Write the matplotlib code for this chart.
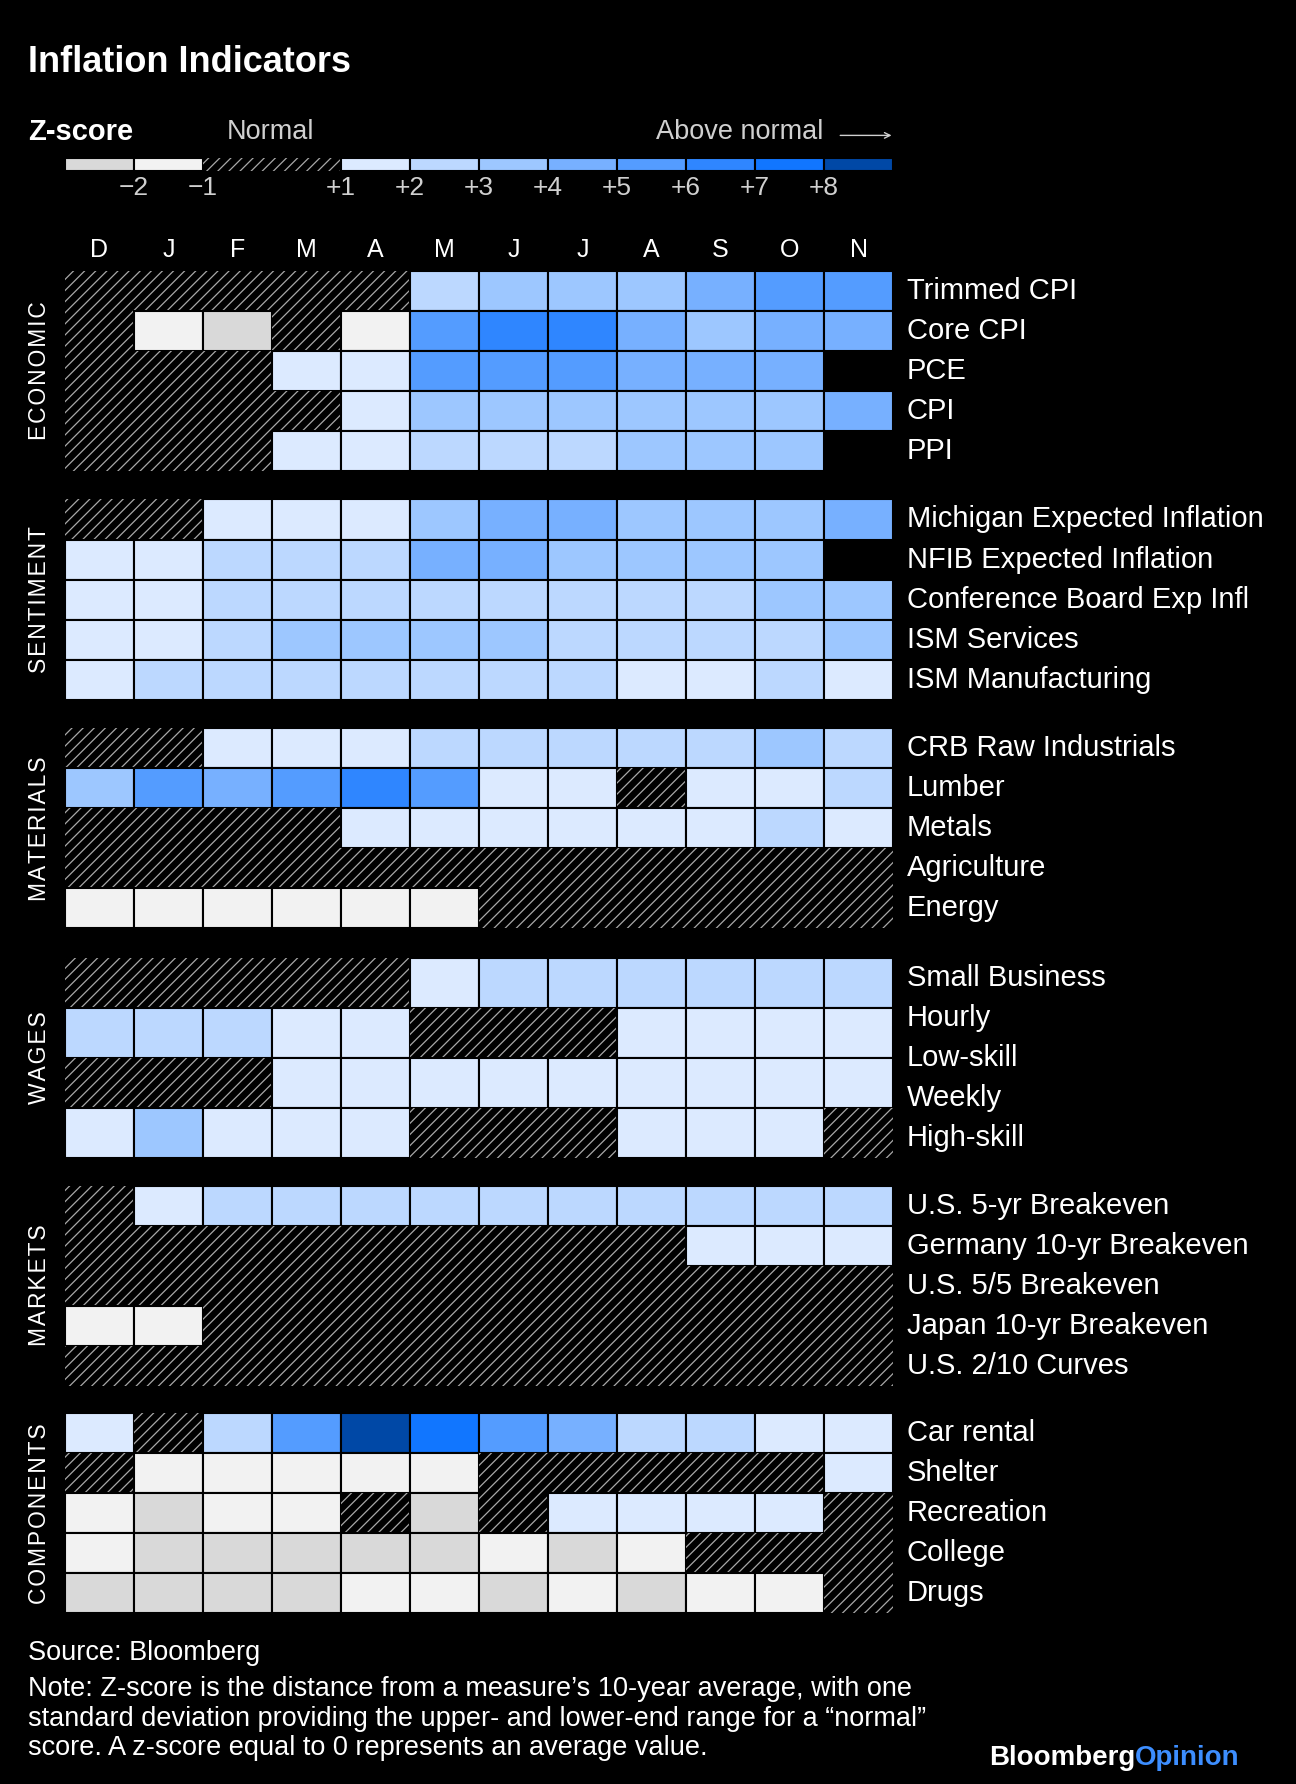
import matplotlib.pyplot as plt
from matplotlib.patches import Rectangle

plt.rcParams['font.family'] = ['Liberation Sans', 'DejaVu Sans']
plt.rcParams['hatch.linewidth'] = 0.9

months = ['D', 'J', 'F', 'M', 'A', 'M', 'J', 'J', 'A', 'S', 'O', 'N']
N = None  # no reading

sections = ['ECONOMIC', 'SENTIMENT', 'MATERIALS', 'WAGES', 'MARKETS', 'COMPONENTS']

economic_labels = ['Trimmed CPI', 'Core CPI', 'PCE', 'CPI', 'PPI']
economic = [
    [0, 0, 0, 0, 0, 2, 3, 3, 3, 4, 5, 5],
    [0, -1, -2, 0, -1, 5, 6, 6, 4, 3, 4, 4],
    [0, 0, 0, 1, 1, 5, 5, 5, 4, 4, 4, N],
    [0, 0, 0, 0, 1, 3, 3, 3, 3, 3, 3, 4],
    [0, 0, 0, 1, 1, 2, 2, 2, 3, 3, 3, N],
]
sentiment_labels = ['Michigan Expected Inflation', 'NFIB Expected Inflation',
                    'Conference Board Exp Infl', 'ISM Services', 'ISM Manufacturing']
sentiment = [
    [0, 0, 1, 1, 1, 3, 4, 4, 3, 3, 3, 4],
    [1, 1, 2, 2, 2, 4, 4, 3, 3, 3, 3, N],
    [1, 1, 2, 2, 2, 2, 2, 2, 2, 2, 3, 3],
    [1, 1, 2, 3, 3, 3, 3, 2, 2, 2, 2, 3],
    [1, 2, 2, 2, 2, 2, 2, 2, 1, 1, 2, 1],
]
materials_labels = ['CRB Raw Industrials', 'Lumber', 'Metals', 'Agriculture', 'Energy']
materials = [
    [0, 0, 1, 1, 1, 2, 2, 2, 2, 2, 3, 2],
    [3, 5, 4, 5, 6, 5, 1, 1, 0, 1, 1, 2],
    [0, 0, 0, 0, 1, 1, 1, 1, 1, 1, 2, 1],
    [0, 0, 0, 0, 0, 0, 0, 0, 0, 0, 0, 0],
    [-1, -1, -1, -1, -1, -1, 0, 0, 0, 0, 0, 0],
]
wages_labels = ['Small Business', 'Hourly', 'Low-skill', 'Weekly', 'High-skill']
wages = [
    [0, 0, 0, 0, 0, 1, 2, 2, 2, 2, 2, 2],
    [2, 2, 2, 1, 1, 0, 0, 0, 1, 1, 1, 1],
    [0, 0, 0, 1, 1, 1, 1, 1, 1, 1, 1, 1],
    [1, 3, 1, 1, 1, 0, 0, 0, 1, 1, 1, 0],
]
markets_labels = ['U.S. 5-yr Breakeven', 'Germany 10-yr Breakeven', 'U.S. 5/5 Breakeven',
                  'Japan 10-yr Breakeven', 'U.S. 2/10 Curves']
markets = [
    [0, 1, 2, 2, 2, 2, 2, 2, 2, 2, 2, 2],
    [0, 0, 0, 0, 0, 0, 0, 0, 0, 1, 1, 1],
    [0, 0, 0, 0, 0, 0, 0, 0, 0, 0, 0, 0],
    [-1, -1, 0, 0, 0, 0, 0, 0, 0, 0, 0, 0],
    [0, 0, 0, 0, 0, 0, 0, 0, 0, 0, 0, 0],
]
components_labels = ['Car rental', 'Shelter', 'Recreation', 'College', 'Drugs']
components = [
    [1, 0, 2, 5, 8, 7, 5, 4, 2, 2, 1, 1],
    [0, -1, -1, -1, -1, -1, 0, 0, 0, 0, 0, 1],
    [-1, -2, -1, -1, 0, -2, 0, 1, 1, 1, 1, 0],
    [-1, -2, -2, -2, -2, -2, -1, -2, -1, 0, 0, 0],
    [-2, -2, -2, -2, -1, -1, -2, -1, -2, -1, -1, 0],
]

blocks = [(economic_labels, economic), (sentiment_labels, sentiment),
          (materials_labels, materials), (wages_labels, wages),
          (markets_labels, markets), (components_labels, components)]

colors = {-2: '#d9d9d9', -1: '#f2f2f2', 1: '#dceaff', 2: '#bcd8ff', 3: '#9dc7ff',
          4: '#77b0ff', 5: '#549cff', 6: '#2f86ff', 7: '#1176ff', 8: '#0048a6'}
legend_vals = [-2, -1, 0, 0, 1, 2, 3, 4, 5, 6, 7, 8]
legend_ticks = ['\u22122', '\u22121', '+1', '+2', '+3', '+4', '+5', '+6', '+7', '+8']

# layout units follow a 1139 x 1568 canvas, saved at 1296 x 1784
W, H = 1139, 1568
fig = plt.figure(figsize=(12.96, 17.84), dpi=100, facecolor='black')
ax = fig.add_axes([0, 0, 1, 1])
ax.set_xlim(0, W)
ax.set_ylim(H, 0)
ax.axis('off')

x0, cw = 57, (785 - 57) / 12
row_h = 35.2
sec_top = [238, 439, 640, 842, 1042, 1242]
sec_h = 5 * row_h
grey = '#d0d0d0'


def cell(x, y, w, h, v):
    if v is None:
        return
    if v == 0:
        ax.add_patch(Rectangle((x, y), w, h, facecolor='black', edgecolor='#a8a8a8',
                               hatch='///', linewidth=0))
    else:
        ax.add_patch(Rectangle((x, y), w, h, facecolor=colors[v], edgecolor='black',
                               linewidth=1.5))


# title and legend
ax.text(25, 55, 'Inflation Indicators', color='white', fontsize=26, fontweight='bold', va='center')
ax.text(25, 116, 'Z-score', color='white', fontsize=21, fontweight='bold', va='center')
ax.text(238, 116, 'Normal', color=grey, fontsize=19.5, va='center', ha='center')
ax.text(724, 116, 'Above normal', color=grey, fontsize=19.5, va='center', ha='right')
ax.annotate('', xy=(786, 119), xytext=(736, 119),
            arrowprops=dict(arrowstyle='->', color=grey, lw=1))
ly, lh = 139, 11
for i, v in enumerate(legend_vals):
    cell(x0 + i * cw, ly, cw, lh, v)
tick_pos = [1, 2, 4, 5, 6, 7, 8, 9, 10, 11]
for p, t in zip(tick_pos, legend_ticks):
    ax.text(x0 + p * cw, 165, t, color=grey, fontsize=19, ha='center', va='center')

for i, m in enumerate(months):
    ax.text(x0 + (i + 0.5) * cw, 220, m, color='white', fontsize=18, ha='center', va='center')

for name, (labels, rows), top in zip(sections, blocks, sec_top):
    rh = sec_h / len(rows)
    for r, vals in enumerate(rows):
        for c, v in enumerate(vals):
            cell(x0 + c * cw, top + r * rh, cw, rh, v)
    for k, lab in enumerate(labels):
        ax.text(797, top + (k + 0.5) * row_h, lab, color='white', fontsize=21, va='center')
    ax.text(35, top + sec_h / 2, '\u200a'.join(name), color='white', fontsize=16.5,
            rotation=90, ha='center', va='center')

ax.text(25, 1453, 'Source: Bloomberg', color='white', fontsize=19.5, va='center')
note = ('Note: Z-score is the distance from a measure\u2019s 10-year average, with one\n'
        'standard deviation providing the upper- and lower-end range for a \u201cnormal\u201d\n'
        'score. A z-score equal to 0 represents an average value.')
ax.text(25, 1473, note, color='white', fontsize=19.5, va='top', linespacing=1.18)

brand = ax.text(869, 1545, 'Bloomberg', color='white', fontsize=20, fontweight='bold',
                va='center', ha='left')
fig.canvas.draw()
bb = brand.get_window_extent().transformed(ax.transData.inverted())
ax.text(bb.x1, 1545, 'Opinion', color='#3d8eff', fontsize=20, fontweight='bold',
        va='center', ha='left')

fig.savefig('out.png', dpi=100, facecolor='black')
